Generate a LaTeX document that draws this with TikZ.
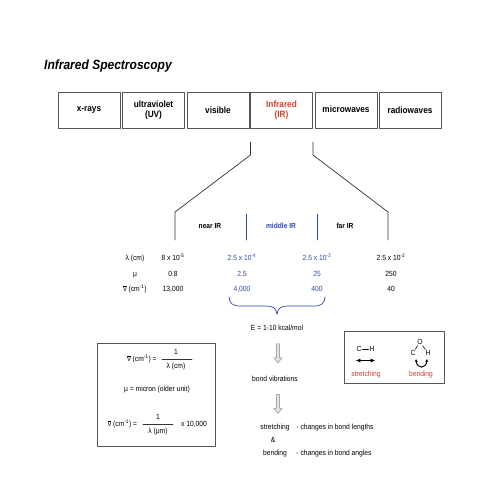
\documentclass[tikz,border=0pt]{standalone}
\usepackage{fontspec}
\setmainfont[FakeStretch=0.9]{Liberation Sans}
\usetikzlibrary{shapes.arrows,arrows.meta}
\definecolor{irred}{RGB}{214,62,40}
\definecolor{irblue}{RGB}{50,70,180}
\definecolor{framegray}{RGB}{85,85,85}
\newcommand{\nubar}{$\overline{\hbox{ν}}$}
\tikzset{
  specbox/.style={draw=framegray,line width=0.8pt,minimum width=2.48cm,minimum height=1.44cm,inner sep=0pt,align=center,font=\fontsize{10.4}{11.4}\selectfont\bfseries},
  heading/.style={inner sep=0pt,text height=6.5pt,text depth=1.5pt,font=\fontsize{8.4}{9}\selectfont\bfseries},
  txt/.style={inner sep=0pt,text height=6.5pt,text depth=1.5pt,font=\fontsize{8.5}{9}\selectfont},
  hollowarrow/.style={draw=gray,fill=black!10,single arrow,shape border rotate=270,minimum width=3.4mm,minimum height=7.6mm,single arrow head extend=0.5mm,single arrow tip angle=80,inner sep=0.4pt,line width=0.5pt},
  fracrule/.style={line width=0.6pt,draw=black!80},
}
\begin{document}
\begin{tikzpicture}[x=0.04cm,y=-0.04cm,line cap=round,line join=round]
\useasboundingbox (0,0) rectangle (495,495);
% Title
\node[inner sep=0pt,anchor=west,font=\fontsize{15.2}{17}\selectfont\bfseries\itshape] (title) at (44,66) {Infrared Spectroscopy};
% Spectrum boxes
\node[specbox] (xrays) at (89,110) {\raisebox{1pt}{x-rays}};
\node[specbox] (uv) at (153.5,110) {ultraviolet\\(UV)};
\node[specbox] (visible) at (218,110) {\raisebox{-1pt}{visible}};
\node[specbox,text=irred] (ir) at (281.5,110) {Infrared\\(IR)};
\node[specbox] (micro) at (346,110) {\raisebox{1pt}{microwaves}};
\node[specbox] (radio) at (410,110) {\raisebox{-1pt}{radiowaves}};
% Zoom lines
\coordinate (zl-top) at (250.5,142);
\coordinate (zl-mid) at (250.5,155);
\coordinate (zl-bend) at (175,212);
\coordinate (zl-end) at (175,240);
\coordinate (zr-top) at (313,142);
\coordinate (zr-mid) at (313,155);
\coordinate (zr-bend) at (388,212);
\coordinate (zr-end) at (388,240);
\draw[line width=0.8pt,draw=black!80] (zl-top) -- (zl-mid) -- (zl-bend) -- (zl-end);
\draw[line width=0.8pt,draw=black!80] (zr-top) -- (zr-mid) -- (zr-bend) -- (zr-end);
% Region dividers
\coordinate (dl-top) at (246,214);
\coordinate (dl-end) at (246,240);
\coordinate (dr-top) at (317,214);
\coordinate (dr-end) at (317,240);
\draw[line width=0.8pt,draw=irblue] (dl-top) -- (dl-end);
\draw[line width=0.8pt,draw=irblue] (dr-top) -- (dr-end);
\node[heading] (near) at (210,226) {near IR};
\node[heading,text=irblue] (middle) at (281,226) {middle IR};
\node[heading] (far) at (345,226) {far IR};
% Table rows
\node[txt] (r1) at (135,258) {λ (cm)};
\node[txt] (r2) at (135,274) {μ};
\node[txt] (r3) at (135,289) {\nubar{} (cm\textsuperscript{-1})};
\node[txt] (a1) at (173,258) {8 x 10\textsuperscript{-5}};
\node[txt] (a2) at (173,274) {0.8};
\node[txt] (a3) at (173,289) {13,000};
\node[txt,text=irblue] (b1) at (242,258) {2.5 x 10\textsuperscript{-4}};
\node[txt,text=irblue] (b2) at (242,274) {2.5};
\node[txt,text=irblue] (b3) at (242,289) {4,000};
\node[txt,text=irblue] (c1) at (317,258) {2.5 x 10\textsuperscript{-3}};
\node[txt,text=irblue] (c2) at (317,274) {25};
\node[txt,text=irblue] (c3) at (317,289) {400};
\node[txt] (d1) at (391,258) {2.5 x 10\textsuperscript{-2}};
\node[txt] (d2) at (391,274) {250};
\node[txt] (d3) at (391,289) {40};
% Brace under middle IR
\coordinate (br-l) at (229,297);
\coordinate (br-r) at (325,297);
\coordinate (br-tip) at (277,314);
\draw[line width=0.8pt,draw=irblue] (br-l) .. controls (229.5,303) and (232,306) .. (240,306) -- (266,306) .. controls (273,306) and (276,308) .. (br-tip);
\draw[line width=0.8pt,draw=irblue] (br-r) .. controls (324.5,303) and (322,306) .. (314,306) -- (288,306) .. controls (281,306) and (278,308) .. (br-tip);
% Centre column
\node[txt] (energy) at (277,328) {E = 1-10 kcal/mol};
\node[hollowarrow] (arrow1) at (278,352.5) {};
\node[txt] (vib) at (275,379) {bond vibrations};
\node[hollowarrow] (arrow2) at (278,403) {};
\node[txt] (stretch) at (275,427) {stretching};
\node[txt] (stretchnote) at (335,427) {- changes in bond lengths};
\node[txt] (amp) at (273,440) {\&};
\node[txt] (bend) at (275,453) {bending};
\node[txt] (bendnote) at (334,453) {- changes in bond angles};
% Formula box
\node[draw=framegray,line width=0.9pt,minimum width=4.7cm,minimum height=4.12cm,inner sep=0pt] (formulas) at (156.5,394.5) {};
\node[txt] (f1lhs) at (142,359) {\nubar{} (cm\textsuperscript{-1}) =};
\node[txt] (f1num) at (176,352) {1};
\node[txt] (f1den) at (176,366) {λ (cm)};
\coordinate (f1a) at (162,359);
\coordinate (f1b) at (192,359);
\draw[fracrule] (f1a) -- (f1b);
\node[txt] (micron) at (157,389) {μ = micron (older unit)};
\node[txt] (f2lhs) at (122.5,424) {\nubar{} (cm\textsuperscript{-1}) =};
\node[txt] (f2num) at (158,417) {1};
\node[txt] (f2den) at (158,431) {λ (μm)};
\coordinate (f2a) at (143,424);
\coordinate (f2b) at (173,424);
\draw[fracrule] (f2a) -- (f2b);
\node[txt] (f2fac) at (194,424) {x 10,000};
% Vibration box
\node[draw=framegray,line width=0.9pt,minimum width=4cm,minimum height=2.08cm,inner sep=0pt] (modes) at (394,357) {};
\node[txt] (sc) at (359,349) {C};
\node[txt] (sh) at (372,349) {H};
\draw[line width=1pt,shorten >=1pt,shorten <=1pt] (sc) -- (sh);
\coordinate (sa) at (356,360.5);
\coordinate (sb) at (375,360.5);
\draw[{Latex[length=5pt,width=4.5pt]}-{Latex[length=5pt,width=4.5pt]},line width=0.6pt] (sa) -- (sb);
\node[txt,text=irred] (stlabel) at (366,374) {stretching};
\node[txt] (bc) at (413,353) {C};
\node[txt] (bo) at (420,342) {O};
\node[txt] (bh) at (428,353) {H};
\draw[line width=0.6pt] (bc) -- (bo);
\draw[line width=0.6pt] (bo) -- (bh);
\coordinate (ba) at (416,359);
\coordinate (bb) at (427,359);
\draw[{Latex[length=3pt,width=3.5pt]}-{Latex[length=3pt,width=3.5pt]},line width=1.1pt] (ba) .. controls (417,369) and (426,369) .. (bb);
\node[txt,text=irred] (bdlabel) at (421,374) {bending};
\end{tikzpicture}
\end{document}
